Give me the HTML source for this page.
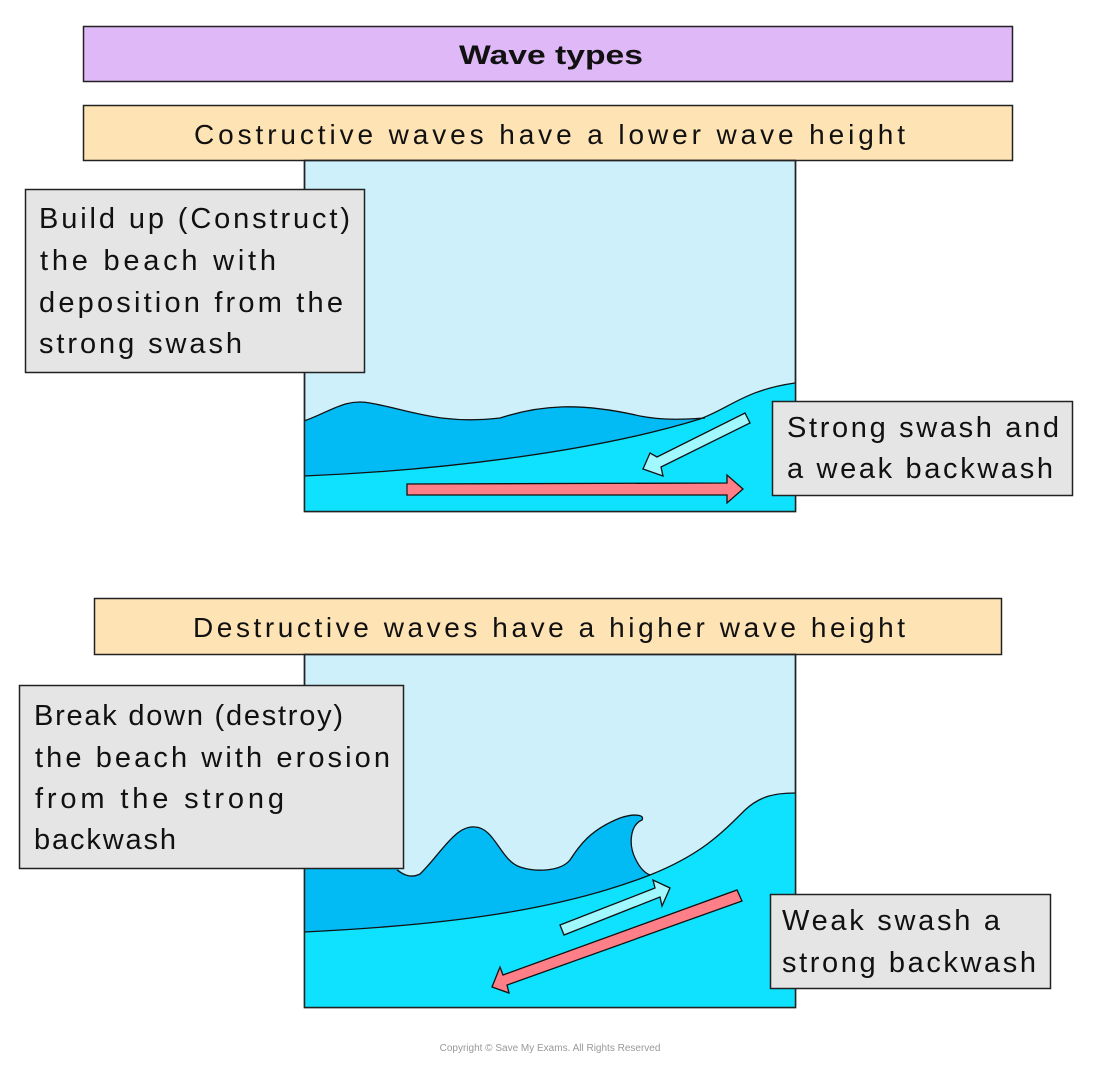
<!DOCTYPE html>
<html><head><meta charset="utf-8"><style>
html,body{margin:0;padding:0;background:#fff;}
svg text{font-family:"Liberation Sans",sans-serif;fill:#111;}
</style></head><body>
<svg width="1100" height="1066" viewBox="0 0 1100 1066" xmlns="http://www.w3.org/2000/svg">
<rect x="0" y="0" width="1100" height="1066" fill="#fff"/>
<!-- title -->
<rect x="83.5" y="26.5" width="929" height="55" fill="#dfb8f8" stroke="#222" stroke-width="1.5"/>
<text x="459" y="64" font-size="27" font-weight="bold" textLength="184" lengthAdjust="spacingAndGlyphs">Wave types</text>
<rect x="83.5" y="105.5" width="929" height="55" fill="#fee3b4" stroke="#222" stroke-width="1.5"/>
<text x="194" y="144" font-size="28" textLength="711" lengthAdjust="spacing">Costructive waves have a lower wave height</text>

<!-- panel 1 -->
<rect x="304.5" y="160.5" width="491" height="351" fill="#cdf0fb" stroke="#222" stroke-width="1.5"/>
<path d="M304,476 C450,470 600,450 700,419 C730,408 745,390 795,383 L795,511 L304,511 Z" fill="#0fe2fe"/>
<path d="M304,421 C330,412 345,398 370,403 C410,410 440,425 500,418 C540,405 580,402 640,416 C665,421 690,419 705,418 L700,419 C600,450 450,470 304,476 Z" fill="#03bbf4"/>
<path d="M304,421 C330,412 345,398 370,403 C410,410 440,425 500,418 C540,405 580,402 640,416 C665,421 690,419 705,418" fill="none" stroke="#111" stroke-width="1.3"/>
<path d="M304,476 C450,470 600,450 700,419 C730,408 745,390 795,383" fill="none" stroke="#111" stroke-width="1.3"/>
<rect x="304.5" y="160.5" width="491" height="351" fill="none" stroke="#222" stroke-width="1.5"/>
<!-- arrows 1 -->
<polygon points="745,413 750,423 661,467 663,476 643,469 650,453 657,457" fill="#a1f8ff" stroke="#111" stroke-width="1.3"/>
<polygon points="407,484 727,483 727,475 743,489 727,503 727,495 407,495" fill="#fe7f87" stroke="#111" stroke-width="1.3"/>

<rect x="25.5" y="189.5" width="339" height="183" fill="#e5e5e5" stroke="#222" stroke-width="1.5"/>
<text x="39" y="228" font-size="29" textLength="311" lengthAdjust="spacing">Build up (Construct)</text>
<text x="40" y="270" font-size="29" textLength="236" lengthAdjust="spacing">the beach with</text>
<text x="39" y="312" font-size="29" textLength="304" lengthAdjust="spacing">deposition from the</text>
<text x="39" y="353" font-size="29" textLength="203" lengthAdjust="spacing">strong swash</text>

<rect x="772.5" y="401.5" width="300" height="94" fill="#e5e5e5" stroke="#222" stroke-width="1.5"/>
<text x="787" y="437" font-size="29" textLength="272" lengthAdjust="spacing">Strong swash and</text>
<text x="787" y="478" font-size="29" textLength="266" lengthAdjust="spacing">a weak backwash</text>

<!-- panel 2 -->
<rect x="94.5" y="598.5" width="907" height="56" fill="#fee3b4" stroke="#222" stroke-width="1.5"/>
<text x="193" y="637" font-size="28" textLength="712" lengthAdjust="spacing">Destructive waves have a higher wave height</text>
<rect x="304.5" y="654.5" width="491" height="353" fill="#cdf0fb" stroke="#222" stroke-width="1.5"/>
<path d="M304,932 C450,925 560,910 650,875 C700,855 720,835 745,810 C760,796 775,793 795,793 L795,1007 L304,1007 Z" fill="#0fe2fe"/>
<path d="M304,868 L397,868 C405,876 412,878 420,874 C440,855 455,825 475,827 C495,828 500,860 520,867 C535,872 560,872 570,860 C580,845 590,830 620,818 C635,813 645,815 642,820 C630,825 628,845 636,860 C640,868 645,873 650,875 C560,910 450,925 304,932 Z" fill="#03bbf4"/>
<path d="M397,870 C405,876 412,878 420,874 C440,855 455,825 475,827 C495,828 500,860 520,867 C535,872 560,872 570,860 C580,845 590,830 620,818 C635,813 645,815 642,820 C630,825 628,845 636,860 C640,868 645,873 650,875" fill="none" stroke="#111" stroke-width="1.3"/>
<path d="M304,932 C450,925 560,910 650,875 C700,855 720,835 745,810 C760,796 775,793 795,793" fill="none" stroke="#111" stroke-width="1.3"/>
<rect x="304.5" y="654.5" width="491" height="353" fill="none" stroke="#222" stroke-width="1.5"/>
<!-- arrows 2 -->
<polygon points="560,925 564,935 660,897 662,906 670,888 653,880 655,888" fill="#a1f8ff" stroke="#111" stroke-width="1.3"/>
<polygon points="737,890 742,901 507,985 509,993 492,987 500,967 503,975" fill="#fe7f87" stroke="#111" stroke-width="1.3"/>

<rect x="19.5" y="685.5" width="384" height="183" fill="#e5e5e5" stroke="#222" stroke-width="1.5"/>
<text x="34" y="725" font-size="29" textLength="309" lengthAdjust="spacing">Break down (destroy)</text>
<text x="35" y="767" font-size="29" textLength="355" lengthAdjust="spacing">the beach with erosion</text>
<text x="35" y="808" font-size="29" textLength="249" lengthAdjust="spacing">from the strong</text>
<text x="34" y="849" font-size="29" textLength="142" lengthAdjust="spacing">backwash</text>

<rect x="770.5" y="894.5" width="280" height="94" fill="#e5e5e5" stroke="#222" stroke-width="1.5"/>
<text x="782" y="930" font-size="29" textLength="218" lengthAdjust="spacing">Weak swash a</text>
<text x="782" y="972" font-size="29" textLength="254" lengthAdjust="spacing">strong backwash</text>

<text x="550" y="1051" font-size="10" text-anchor="middle" style="fill:#999">Copyright © Save My Exams. All Rights Reserved</text>
</svg>
</body></html>
